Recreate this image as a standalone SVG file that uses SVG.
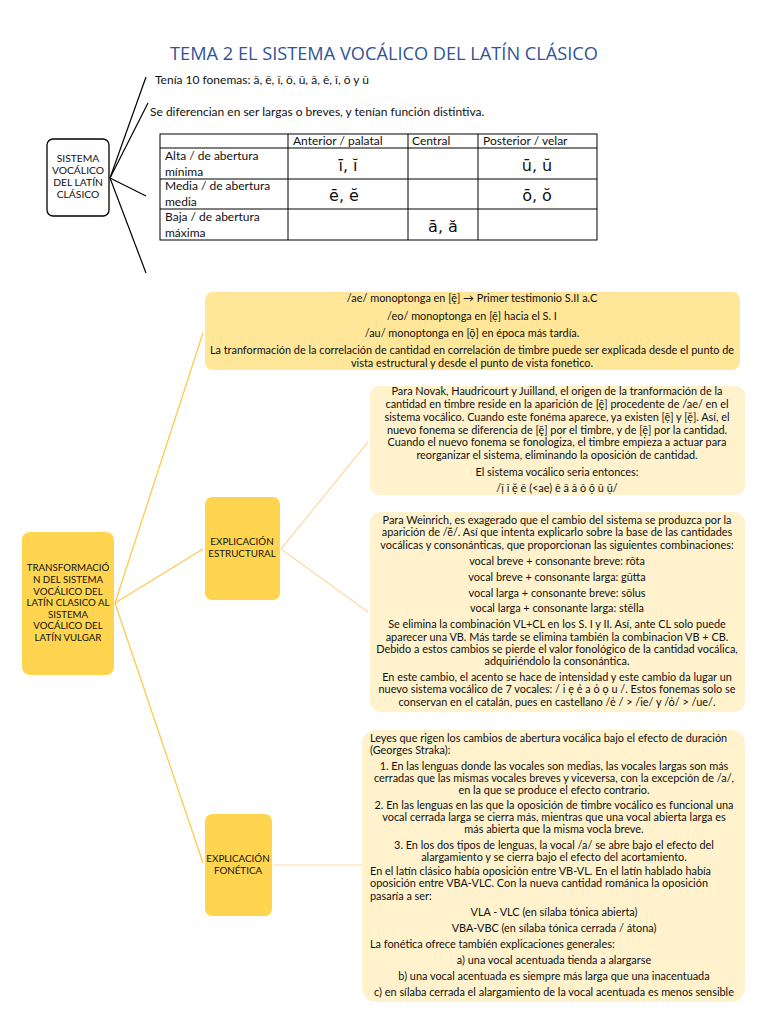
<svg xmlns="http://www.w3.org/2000/svg" width="768" height="1024" viewBox="0 0 768 1024">
<style>
.t{font-family:Lato,"Open Sans","DejaVu Sans",sans-serif;fill:#111;}
.s{font-size:10.9px;}
.c{text-anchor:middle;}
.v{font-family:"DejaVu Sans",sans-serif;font-size:16px;fill:#111;text-anchor:middle;}
.blk{stroke:#000;stroke-width:1.2;fill:none;}
.main{stroke:#FFC94F;stroke-width:1.3;fill:none;}
.sub{stroke:#FFD9A3;stroke-width:1.2;fill:none;}
.dark{fill:#FFD54F;}
.mid{fill:#FFE699;}
.light{fill:#FFF2CC;}
</style>
<rect width="768" height="1024" fill="#fff"/>
<text x="384" y="60" text-anchor="middle" font-family="'Open Sans','DejaVu Sans',sans-serif" font-size="18.2" fill="#2F5597">TEMA 2 EL SISTEMA VOCÁLICO DEL LATÍN CLÁSICO</text>

<g id="connectors">
<line class="blk" x1="110" y1="178" x2="146" y2="77"/>
<line class="blk" x1="110" y1="178" x2="148" y2="103"/>
<line class="blk" x1="110" y1="178" x2="146" y2="196"/>
<line class="blk" x1="110" y1="178" x2="146" y2="273"/>
<line class="main" x1="115" y1="603" x2="203" y2="333"/>
<line class="main" x1="115" y1="603" x2="203" y2="549"/>
<line class="main" x1="115" y1="603" x2="203" y2="863"/>
<line class="sub" x1="281" y1="549" x2="368" y2="442"/>
<line class="sub" x1="281" y1="549" x2="368" y2="612"/>
<line class="sub" x1="274" y1="865" x2="362" y2="865"/>
</g>

<g id="sistema">
<rect x="47" y="139" width="62" height="77" rx="6" fill="#fff" stroke="#000" stroke-width="1.3"/>
<text class="t c" font-size="10.3"><tspan x="78" y="162">SISTEMA</tspan><tspan x="78" y="174">VOCÁLICO</tspan><tspan x="78" y="186">DEL LATÍN</tspan><tspan x="78" y="198">CLÁSICO</tspan></text>
</g>

<g id="fonemas">
<text class="t" font-size="12" x="155" y="84">Tenía 10 fonemas: ā, ē, ī, ō, ū, ă, ĕ, ĭ, ŏ y ŭ</text>
</g>
<g id="diferencian">
<text class="t" font-size="12" x="150" y="116">Se diferencian en ser largas o breves, y tenían función distintiva.</text>
</g>

<g id="tabla">
<rect x="160" y="134" width="437" height="106" fill="none" stroke="#000" stroke-width="1"/>
<line x1="160" y1="148" x2="597" y2="148" stroke="#000"/>
<line x1="160" y1="179" x2="597" y2="179" stroke="#000"/>
<line x1="160" y1="209" x2="597" y2="209" stroke="#000"/>
<line x1="288" y1="134" x2="288" y2="240" stroke="#000"/>
<line x1="408" y1="134" x2="408" y2="240" stroke="#000"/>
<line x1="478" y1="134" x2="478" y2="240" stroke="#000"/>
<text class="t" font-size="12"><tspan x="293" y="145">Anterior / palatal</tspan><tspan x="412" y="145">Central</tspan><tspan x="483" y="145">Posterior / velar</tspan></text>
<text class="t" font-size="12"><tspan x="165" y="160">Alta / de abertura</tspan><tspan x="165" y="176">mínima</tspan><tspan x="165" y="190">Media / de abertura</tspan><tspan x="165" y="206">media</tspan><tspan x="165" y="221">Baja / de abertura</tspan><tspan x="165" y="237">máxima</tspan></text>
<text class="v" x="348" y="171">ī, ĭ</text>
<text class="v" x="537" y="171">ū, ŭ</text>
<text class="v" x="344" y="201">ē, ĕ</text>
<text class="v" x="537" y="201">ō, ŏ</text>
<text class="v" x="443" y="232">ā, ă</text>
</g>

<g id="root">
<rect class="dark" x="22" y="532" width="92" height="143" rx="8"/>
<text class="t c" font-size="9.7"><tspan x="68" y="571">TRANSFORMACIÓ</tspan><tspan x="68" y="583">N DEL SISTEMA</tspan><tspan x="68" y="595">VOCÁLICO DEL</tspan><tspan x="68" y="606">LATÍN CLASICO AL</tspan><tspan x="68" y="618">SISTEMA</tspan><tspan x="68" y="629">VOCÁLICO DEL</tspan><tspan x="68" y="641">LATÍN VULGAR</tspan></text>
</g>

<g id="monoptongacion">
<rect class="mid" x="205" y="292" width="535" height="78" rx="8"/>
<text class="t s c"><tspan x="472" y="302">/ae/ monoptonga en [ę̄] → Primer testimonio S.II a.C</tspan><tspan x="472" y="320">/eo/ monoptonga en [ẹ̄] hacia el S. I</tspan><tspan x="472" y="337">/au/ monoptonga en [ọ̄] en época más tardía.</tspan><tspan x="472" y="354">La tranformación de la correlación de cantidad en correlación de timbre puede ser explicada desde el punto de</tspan><tspan x="472" y="367">vista estructural y desde el punto de vista fonetico.</tspan></text>
</g>

<g id="estructural">
<rect class="dark" x="205" y="497" width="75" height="103" rx="7"/>
<text class="t c" font-size="9.8"><tspan x="242" y="545">EXPLICACIÓN</tspan><tspan x="242" y="557">ESTRUCTURAL</tspan></text>
</g>

<g id="novak">
<rect class="light" x="370" y="386" width="375" height="109" rx="9"/>
<text class="t s c"><tspan x="557" y="395">Para Novak, Haudricourt y Juilland, el origen de la tranformación de la</tspan><tspan x="557" y="408">cantidad en timbre reside en la aparición de [ę̄] procedente de /ae/ en el</tspan><tspan x="557" y="421">sistema vocálico. Cuando este fonéma aparece, ya existen [ẹ̄] y [ẹ̆]. Así, el</tspan><tspan x="557" y="434">nuevo fonema se diferencia de [ę̄] por el timbre, y de [ẹ̄] por la cantidad.</tspan><tspan x="557" y="446">Cuando el nuevo fonema se fonologiza, el timbre empieza a actuar para</tspan><tspan x="557" y="459">reorganizar el sistema, eliminando la oposición de cantidad.</tspan><tspan x="557" y="476">El sistema vocálico seria entonces:</tspan><tspan x="557" y="492">/ī̦ ĭ ẹ̆ ē (&lt;ae) ĕ ā ă ŏ ọ̄ ŭ ụ̄/</tspan></text>
</g>

<g id="weinrich">
<rect class="light" x="370" y="512" width="375" height="200" rx="11"/>
<text class="t s c"><tspan x="557" y="524">Para Weinrich, es exagerado que el cambio del sistema se produzca por la</tspan><tspan x="557" y="536">aparición de /ē̆/. Así que intenta explicarlo sobre la base de las cantidades</tspan><tspan x="557" y="549">vocálicas y consonánticas, que proporcionan las siguientes combinaciones:</tspan><tspan x="557" y="565">vocal breve + consonante breve: rŏta</tspan><tspan x="557" y="581">vocal breve + consonante larga: gŭtta</tspan><tspan x="557" y="597">vocal larga + consonante breve: sōlus</tspan><tspan x="557" y="612">vocal larga + consonante larga: stēlla</tspan><tspan x="557" y="628">Se elimina la combinación VL+CL en los S. I y II. Así, ante CL solo puede</tspan><tspan x="557" y="641">aparecer una VB. Más tarde se elimina también la combinacion VB + CB.</tspan><tspan x="557" y="653">Debido a estos cambios se pierde el valor fonológico de la cantidad vocálica,</tspan><tspan x="557" y="665">adquiriéndolo la consonántica.</tspan><tspan x="557" y="681">En este cambio, el acento se hace de intensidad y este cambio da lugar un</tspan><tspan x="557" y="693">nuevo sistema vocálico de 7 vocales: / i ẹ e̓ a o̓ ọ u /. Estos fonemas solo se</tspan><tspan x="557" y="706">conservan en el catalán, pues en castellano /e̓ / &gt; /ie/ y /o̓/ &gt; /ue/.</tspan></text>
</g>

<g id="fonetica">
<rect class="dark" x="205" y="814" width="67" height="102" rx="7"/>
<text class="t c" font-size="9.8"><tspan x="238" y="862">EXPLICACIÓN</tspan><tspan x="238" y="874">FONÉTICA</tspan></text>
</g>

<g id="straka">
<rect class="light" x="362" y="730" width="383" height="272" rx="14"/>
<text class="t s"><tspan x="370" y="742">Leyes que rigen los cambios de abertura vocálica bajo el efecto de duración</tspan><tspan x="370" y="754">(Georges Straka):</tspan></text>
<text class="t s c"><tspan x="554" y="770">1. En las lenguas donde las vocales son medias, las vocales largas son más</tspan><tspan x="554" y="782">cerradas que las mismas vocales breves y viceversa, con la excepción de /a/,</tspan><tspan x="554" y="794">en la que se produce el efecto contrario.</tspan><tspan x="554" y="809">2. En las lenguas en las que la oposición de timbre vocálico es funcional una</tspan><tspan x="554" y="821">vocal cerrada larga se cierra más, mientras que una vocal abierta larga es</tspan><tspan x="554" y="833">más abierta que la misma vocla breve.</tspan><tspan x="554" y="849">3. En los dos tipos de lenguas, la vocal /a/ se abre bajo el efecto del</tspan><tspan x="554" y="861">alargamiento y se cierra bajo el efecto del acortamiento.</tspan></text>
<text class="t s"><tspan x="370" y="875">En el latín clásico había oposición entre VB-VL. En el latín hablado había</tspan><tspan x="370" y="887">oposición entre VBA-VLC. Con la nueva cantidad románica la oposición</tspan><tspan x="370" y="900">pasaría a ser:</tspan></text>
<text class="t s c"><tspan x="554" y="916">VLA - VLC (en sílaba tónica abierta)</tspan><tspan x="554" y="932">VBA-VBC (en sílaba tónica cerrada / átona)</tspan></text>
<text class="t s"><tspan x="370" y="948">La fonética ofrece también explicaciones generales:</tspan></text>
<text class="t s c"><tspan x="554" y="964">a) una vocal acentuada tienda a alargarse</tspan><tspan x="554" y="980">b) una vocal acentuada es siempre más larga que una inacentuada</tspan><tspan x="554" y="996">c) en sílaba cerrada el alargamiento de la vocal acentuada es menos sensible</tspan></text>
</g>
</svg>
